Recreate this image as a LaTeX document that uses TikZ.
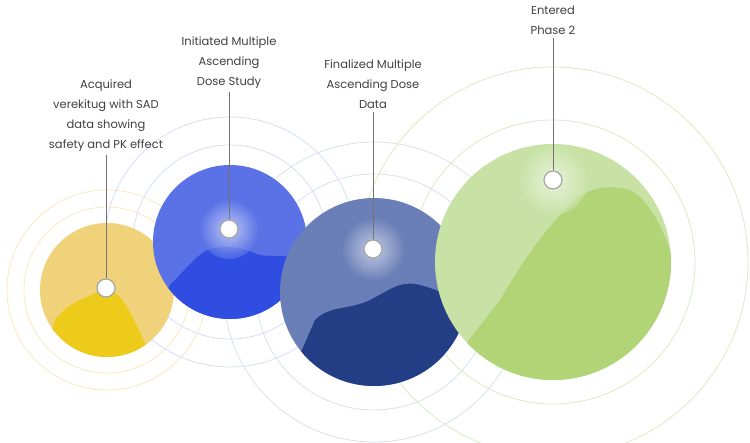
\documentclass[tikz,border=0pt]{standalone}
\usepackage{fontspec}
\setmainfont{Poppins}
\begin{document}
\begin{tikzpicture}[x=1pt,y=-1pt,
  ring/.style={draw=#1,line width=0.8pt},
  pin/.style={circle,draw=gray!70,line width=1.2pt,fill=white,minimum size=18pt,inner sep=0pt},
  lbl/.style={align=center,font=\fontsize{11.5}{20}\selectfont,text=black!75},
  stem/.style={draw=black!55,line width=0.6pt}]
\useasboundingbox (0,0) rectangle (750,443);
\definecolor{yel}{HTML}{F0D27A}\definecolor{yeld}{HTML}{ECCB1A}
\definecolor{blu}{HTML}{5A72E6}\definecolor{blud}{HTML}{2F4DE0}
\definecolor{nav}{HTML}{6A7FB8}\definecolor{navd}{HTML}{243E86}
\definecolor{grn}{HTML}{C8E2A6}\definecolor{grnd}{HTML}{B0D476}
% rings
\draw[ring=yel!50] (107,290) circle (83) (107,290) circle (100);
\draw[ring=blu!25] (230,242) circle (97) (230,242) circle (125);
\draw[ring=nav!25] (374,292) circle (118) (374,292) circle (150);
\draw[ring=grn!70] (553,262) circle (142) (553,262) circle (195);
% yellow
\fill[yel] (107,290) circle (67);
\begin{scope}\clip (107,290) circle (67);
\fill[yeld] (40,370) -- (55,320) .. controls (70,300) and (85,300) .. (100,290) .. controls (120,285) and (130,310) .. (150,355) -- (150,370) -- cycle;
\end{scope}
% blue
\fill[blu] (230,242) circle (77);
\begin{scope}\clip (230,242) circle (77);
\fill[blud] (150,330) -- (170,285) .. controls (190,265) and (200,250) .. (215,248) .. controls (235,245) and (245,250) .. (260,255) .. controls (275,258) and (290,250) .. (310,270) -- (310,330) -- cycle;
\end{scope}
\shade[inner color=white,outer color=blu,opacity=0.6] (229,229) circle (30);
% navy
\fill[nav] (374,292) circle (94);
\begin{scope}\clip (374,292) circle (94);
\fill[navd] (280,400) -- (315,320) .. controls (330,305) and (350,310) .. (370,300) .. controls (390,290) and (400,280) .. (420,285) .. controls (440,290) and (455,300) .. (470,300) -- (470,400) -- cycle;
\end{scope}
\shade[inner color=white,outer color=nav,opacity=0.6] (373,249) circle (32);
% green
\fill[grn] (553,262) circle (118);
\begin{scope}\clip (553,262) circle (118);
\fill[grnd] (430,390) -- (500,300) .. controls (530,250) and (545,230) .. (570,205) .. controls (590,185) and (610,185) .. (630,190) .. controls (650,200) and (665,230) .. (680,280) -- (680,390) -- cycle;
\end{scope}
\shade[inner color=white,outer color=grn,opacity=0.6] (553,180) circle (35);
% pins and labels
\node[pin] (p1) at (106,288) {};
\node[pin] (p2) at (229,229) {};
\node[pin] (p3) at (373,249) {};
\node[pin] (p4) at (553,180) {};
\coordinate (t1) at (106,155);
\coordinate (t2) at (229,92);
\coordinate (t3) at (373,112);
\coordinate (t4) at (553,38);
\draw[stem] (p1) -- (t1); \draw[stem] (p2) -- (t2);
\draw[stem] (p3) -- (t3); \draw[stem] (p4) -- (t4);
\node[lbl,anchor=south] (l1) at (t1) {Acquired\\verekitug with SAD\\data showing\\safety and PK effect};
\node[lbl,anchor=south] (l2) at (t2) {Initiated Multiple\\Ascending\\Dose Study};
\node[lbl,anchor=south] (l3) at (t3) {Finalized Multiple\\Ascending Dose\\Data};
\node[lbl,anchor=south] (l4) at (t4) {Entered\\Phase 2};
\end{tikzpicture}
\end{document}
